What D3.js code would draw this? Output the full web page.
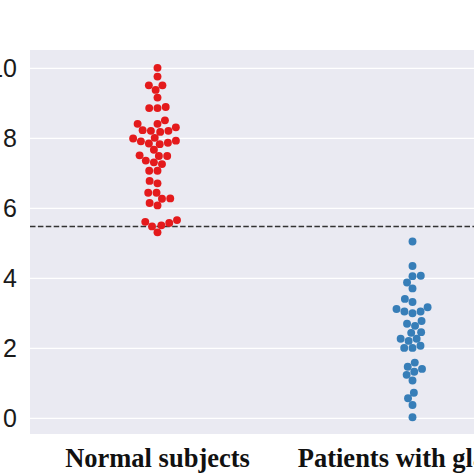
<!DOCTYPE html>
<html><head><meta charset="utf-8">
<script src="https://cdn.jsdelivr.net/npm/d3@7"></script>
<style>body{margin:0;background:#fff;overflow:hidden}</style>
</head><body><svg id="c" width="474" height="474"></svg>
<script>
const categories = ["Normal subjects", "Patients with glaucoma"];
const normalValues = [10.0, 9.75, 9.5, 9.5, 9.37, 9.15, 8.88, 8.85, 8.85, 8.5, 8.4, 8.4, 8.3, 8.22, 8.2, 8.2, 8.17, 8.0, 7.98, 7.92, 7.9, 7.86, 7.84, 7.82, 7.66, 7.5, 7.48, 7.48, 7.35, 7.3, 7.25, 7.06, 7.06, 6.77, 6.7, 6.43, 6.43, 6.27, 6.26, 6.14, 6.07, 5.65, 5.6, 5.57, 5.5, 5.47, 5.3];
const glaucomaValues = [5.04, 4.34, 4.05, 4.06, 3.87, 3.7, 3.4, 3.31, 3.16, 3.11, 3.04, 3.04, 2.99, 2.77, 2.69, 2.63, 2.45, 2.43, 2.26, 2.26, 2.2, 2.06, 2.0, 2.0, 1.58, 1.46, 1.4, 1.32, 1.23, 1.07, 0.72, 0.56, 0.37, 0.02];
const yTicks = [0, 2, 4, 6, 8, 10];
const cutoff = 5.47;
const colors = ["#e41a1c", "#377eb8"];

const svg = d3.select("#c");
const pL = 30, pR = 540, pT = 50, pB = 434;
const x = d3.scaleBand().domain(categories).range([pL, pR]).padding(0);
const y = d3.scaleLinear().domain([-0.46, 10.51]).range([pB, pT]);

svg.append("rect").attr("x", pL).attr("y", pT).attr("width", pR - pL).attr("height", pB - pT).attr("fill", "#eaeaf2");

// gridlines
svg.append("g").attr("transform", `translate(${pL},0)`)
  .call(d3.axisLeft(y).tickValues(yTicks).tickSize(-(pR - pL)).tickFormat(""))
  .call(g => g.select(".domain").remove())
  .call(g => g.selectAll("line").attr("stroke", "#fff").attr("stroke-width", 1.4));

// y tick labels
svg.append("g").attr("transform", `translate(${pL},0)`)
  .call(d3.axisLeft(y).tickValues(yTicks).tickSize(0).tickPadding(13).tickFormat(d3.format("d")))
  .call(g => g.select(".domain").remove())
  .call(g => g.selectAll("text").attr("font-family", "'Liberation Sans', Arial, sans-serif").attr("font-size", 25).attr("fill", "#1a1a1a").attr("dy", "0.35em"));

// x labels
svg.append("g").attr("transform", `translate(0,${pB})`)
  .call(d3.axisBottom(x).tickSize(0))
  .call(g => g.select(".domain").remove())
  .call(g => g.selectAll("text").attr("font-family", "'Liberation Serif', 'Times New Roman', serif").attr("font-weight", "bold").attr("font-size", 26.5).attr("fill", "#111").attr("y", 33).attr("dy", 0)
    .attr("dx", (d, i) => i === 1 ? 17 : 0));

// cutoff line
svg.append("line").attr("x1", pL).attr("x2", pR).attr("y1", y(cutoff)).attr("y2", y(cutoff))
  .attr("stroke", "#333").attr("stroke-width", 1.5).attr("stroke-dasharray", "5.5,2.4");

// beeswarm (seaborn-like)
function swarm(values, cx, r) {
  const pts = values.map(v => ({ v, py: y(v) })).sort((a, b) => a.v - b.v);
  const placed = [];
  for (const p of pts) {
    const nb = placed.filter(q => Math.abs(q.py - p.py) < 2 * r);
    const cands = [0];
    let leftFirst = true;
    for (const q of nb) {
      const dy = p.py - q.py;
      const dx = Math.sqrt(Math.max(4 * r * r - dy * dy, 0)) * 1.05;
      if (leftFirst) cands.push(q.dx - dx, q.dx + dx); else cands.push(q.dx + dx, q.dx - dx);
      leftFirst = !leftFirst;
    }
    const order = cands.map((c, i) => [c, i]).sort((a, b) => Math.abs(a[0]) - Math.abs(b[0]) || a[1] - b[1]);
    let chosen = 0;
    for (const [c] of order) {
      const ok = nb.every(q => (c - q.dx) ** 2 + (p.py - q.py) ** 2 >= 4 * r * r - 1e-6);
      if (ok) { chosen = c; break; }
    }
    p.dx = chosen;
    placed.push(p);
  }
  return placed.map(p => ({ x: cx + p.dx, y: p.py }));
}

const r = 3.95;
[normalValues, glaucomaValues].forEach((vals, i) => {
  const cx = x(categories[i]) + x.bandwidth() / 2;
  svg.append("g").selectAll("circle").data(swarm(vals, cx, r)).join("circle")
    .attr("cx", d => d.x).attr("cy", d => d.y).attr("r", r).attr("fill", colors[i]);
});
</script></body></html>
